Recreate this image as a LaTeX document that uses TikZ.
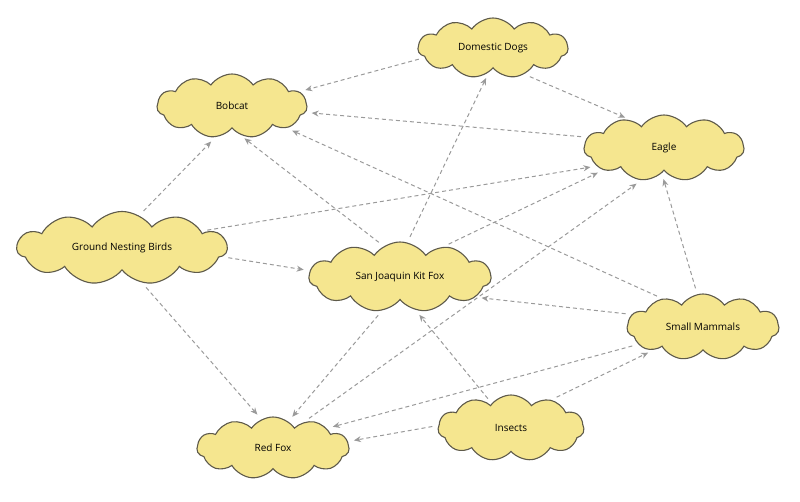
\documentclass[tikz,border=0pt]{standalone}
\usepackage{fontspec}
\setmainfont{Open Sans}
\usetikzlibrary{shapes.symbols,arrows.meta}
\definecolor{cfill}{HTML}{F5E68F}
\definecolor{cline}{HTML}{5E5A4A}
\definecolor{aline}{HTML}{9A9A9A}
\begin{document}
\begin{tikzpicture}[x=1pt,y=-1pt,
  cl/.style={cloud, cloud puffs=11, cloud puff arc=110, aspect=2.6, fill=cfill, draw=cline, line width=1.1pt, inner sep=0pt, font=\fontsize{10}{12}\selectfont},
  ar/.style={-{Stealth[length=7pt,width=6pt]}, draw=aline, line width=1pt, dash pattern=on 4pt off 3pt, shorten <=6pt, shorten >=6pt}]
\useasboundingbox (0,0) rectangle (800,502);
\node[cl, minimum width=150, minimum height=60] (dd) at (493,48) {Domestic Dogs};
\node[cl, minimum width=150, minimum height=64] (bc) at (232,106) {Bobcat};
\node[cl, minimum width=160, minimum height=66] (ea) at (664,148) {Eagle};
\node[cl, minimum width=210, minimum height=66] (gn) at (122,248) {Ground Nesting Birds};
\node[cl, minimum width=182, minimum height=70] (kf) at (400,277) {San Joaquin Kit Fox};
\node[cl, minimum width=152, minimum height=66] (sm) at (703,327) {Small Mammals};
\node[cl, minimum width=146, minimum height=66] (in) at (511,428) {Insects};
\node[cl, minimum width=152, minimum height=62] (rf) at (273,448) {Red Fox};
\begin{scope}[on background layer/.style={}]
\draw[ar] (dd.188) -- (bc.12);
\draw[ar] (dd.-40) -- (ea.140);
\draw[ar] (ea.172) -- (bc.-5);
\draw[ar] (gn.62) -- (bc.-118);
\draw[ar] (gn.12) -- (ea.195);
\draw[ar] (gn.-5) -- (kf.176);
\draw[ar] (gn.-60) -- (rf.112);
\draw[ar] (kf.118) -- (bc.-75);
\draw[ar] (kf.78) -- (dd.-100);
\draw[ar] (kf.35) -- (ea.-160);
\draw[ar] (kf.-118) -- (rf.60);
\draw[ar] (rf.40) -- (ea.-125);
\draw[ar] (sm.145) -- (bc.-22);
\draw[ar] (sm.170) -- (kf.-15);
\draw[ar] (sm.100) -- (ea.-95);
\draw[ar] (sm.-165) -- (rf.20);
\draw[ar] (in.128) -- (kf.-65);
\draw[ar] (in.35) -- (sm.-155);
\draw[ar] (in.178) -- (rf.5);
\end{scope}
\end{tikzpicture}
\end{document}
